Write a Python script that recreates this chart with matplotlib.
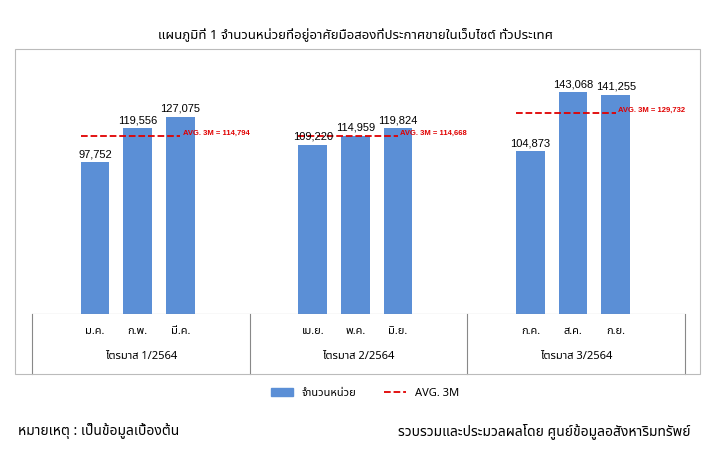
import matplotlib
matplotlib.use("Agg")
import matplotlib.pyplot as plt
from matplotlib.lines import Line2D
from matplotlib.patches import Patch

plt.rcParams['font.family'] = ['Noto Sans Thai', 'Noto Sans', 'DejaVu Sans']

months = ["ม.ค.", "ก.พ.", "มี.ค.", "เม.ย.", "พ.ค.", "มิ.ย.", "ก.ค.", "ส.ค.", "ก.ย."]
values = [97752, 119556, 127075, 109220, 114959, 119824, 104873, 143068, 141255]
quarters = ["ไตรมาส 1/2564", "ไตรมาส 2/2564", "ไตรมาส 3/2564"]
avgs = [114794, 114668, 129732]
avg_labels = ["AVG. 3M = 114,794", "AVG. 3M = 114,668", "AVG. 3M = 129,732"]

fig = plt.figure(figsize=(7.1, 4.64), dpi=100)
ax = fig.add_axes([32/710, 149/464, 653/710, 270/464])
blue = "#5B8FD6"
xs = [g*5 + 1.45 + i*0.98 for g in range(3) for i in range(3)]
ax.bar(xs, values, width=0.66, color=blue)
for x, v in zip(xs, values):
    ax.text(x, v + 2500, f"{v:,}", ha="center", va="bottom", fontsize=8, family="Liberation Sans")
for g, (a, lab) in enumerate(zip(avgs, avg_labels)):
    x0 = xs[g*3] - 0.33
    x1 = xs[g*3+2]
    ax.plot([x0, x1], [a, a], color="#E00000", ls="--", lw=1.3)
    ax.text(x1 + 0.05, a, lab, color="#E00000", fontsize=5.5, va="bottom",
            family="Liberation Sans", fontweight="bold")
ax.set_xlim(0, 15)
ax.set_ylim(0, 174000)
ax.axis("off")
for xb in [0, 5, 10, 15]:
    ax.plot([xb, xb], [0, -0.222], transform=ax.get_xaxis_transform(), color="#888", lw=0.8, clip_on=False)
ax.plot([0, 15], [0, 0], color="#888", lw=0.8)
for x, m in zip(xs, months):
    ax.text(x, -0.06, m, transform=ax.get_xaxis_transform(), ha="center", va="center", fontsize=8)
for g, q in enumerate(quarters):
    ax.text(g*5 + 2.5, -0.155, q, transform=ax.get_xaxis_transform(), ha="center", va="center", fontsize=8)

fig.patches.append(plt.Rectangle((15/710, (464-375)/464), 685/710, 325/464, transform=fig.transFigure,
                                 fill=False, edgecolor="#bbb", lw=0.8))
fig.text(0.5, 1-35/464, "แผนภูมิที่ 1 จำนวนหน่วยที่อยู่อาศัยมือสองที่ประกาศขายในเว็บไซต์ ทั่วประเทศ",
         ha="center", va="center", fontsize=9.5)
handles = [Patch(color=blue), Line2D([0], [0], color="#E00000", ls="--", lw=1.3)]
fig.legend(handles, ["จำนวนหน่วย", "AVG. 3M"], loc="center", bbox_to_anchor=(365/710, 1-394/464),
           ncol=2, frameon=False, fontsize=8, columnspacing=2.5)
fig.text(18/710, 1-431/464, "หมายเหตุ : เป็นข้อมูลเบื้องต้น", ha="left", va="center", fontsize=10)
fig.text(690/710, 1-431/464, "รวบรวมและประมวลผลโดย ศูนย์ข้อมูลอสังหาริมทรัพย์", ha="right", va="center", fontsize=10)
fig.savefig("out.png", dpi=100)
